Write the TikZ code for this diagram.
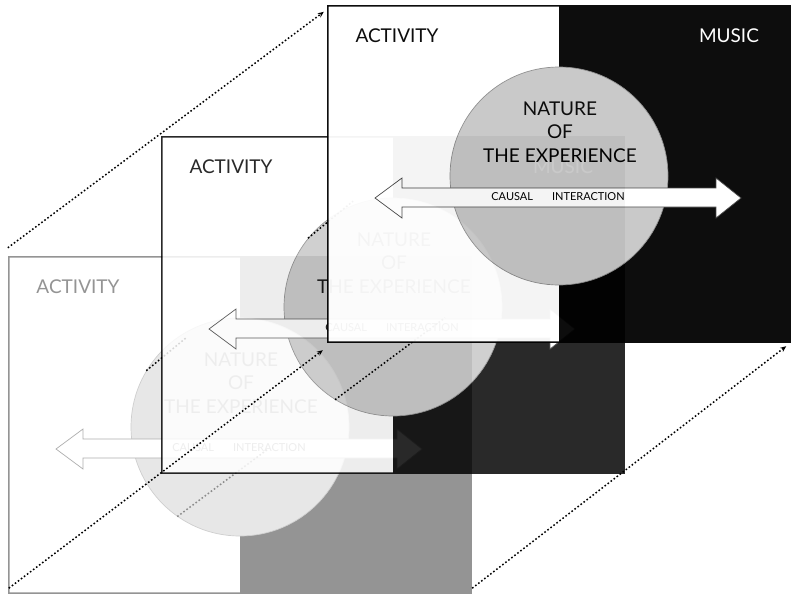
\documentclass[tikz,border=0pt]{standalone}
\usepackage{fontspec}
\setmainfont{Lato}
\usetikzlibrary{arrows.meta,calc}

\begin{document}
\begin{tikzpicture}[
    x=1pt,y=-1pt,
    panelbox/.style={minimum width=462pt,minimum height=336pt,inner sep=0pt,
      fill=white},
    panelframe/.style={line width=1.5pt},
    expcircle/.style={circle,draw=black!45,line width=0.7pt,fill=black!22,
      minimum size=218pt,inner sep=0pt},
    caption/.style={font=\fontsize{19}{23.5}\selectfont,inner sep=0pt},
    smallcaption/.style={font=\fontsize{11}{12}\selectfont,inner sep=0pt},
    arrowbody/.style={draw=black!75,line width=0.7pt,fill=white},
    circleline/.style={line width=1.5pt,dash pattern=on 1.6pt off 2.2pt},
    linkline/.style={circleline,-{Stealth[length=6pt,width=5pt]}},
    panel/.pic={
      \node[panelbox] (-box) at (231,168) {};
      \fill[black] (-box.north) rectangle (-box.south east);
      \node[expcircle] (-circ) at (231,170) {};
      \node[caption] (-act) at (69,30) {ACTIVITY};
      \node[caption,text=white] (-mus) at (401,30) {MUSIC};
      \node[caption,align=center] (-nat) at (232,126)
        {NATURE\\OF\\THE EXPERIENCE};
      \filldraw[arrowbody] (47,192) -- (74,172) -- (74,182) -- (388,182)
        -- (388,172) -- (413,192) -- (388,212) -- (388,201) -- (74,201)
        -- (74,212) -- cycle;
      \node[smallcaption] (-int) at (230,191)
        {CAUSAL\hspace{19pt}INTERACTION};
      \draw[panelframe] (-box.north west) rectangle (-box.south east);
    }
  ]
    \fill[white] (0,0) rectangle (800,600);
    % back panel
    \begin{scope}[opacity=0.42,transparency group]
      \pic (p1) at (9,257) {panel};
    \end{scope}
    \draw[circleline] (p1-circ.149) -- ($(p1-circ.149)+(40,-33)$);
    \draw[circleline,black!45] (p1-circ.235) -- ($(p1-circ.235)+(90,-67)$);
    % middle panel
    \begin{scope}[opacity=0.84,transparency group]
      \pic (p2) at (162,137) {panel};
    \end{scope}
    \draw[circleline] (p2-circ.141) -- ($(p2-circ.141)+(45,-37)$);
    \draw[circleline] (p2-circ.238) -- ($(p2-circ.238)+(110,-82)$);
    \draw[linkline] ([yshift=5pt]p1-box.south west)
      -- ([shift={(161pt,123pt)}]p2-box.south west);
    % front panel
    \begin{scope}[opacity=0.95,transparency group]
      \pic (p3) at (328,6) {panel};
    \end{scope}
    \draw[linkline] ([shift={(-1pt,9pt)}]p1-box.north west)
      -- ([shift={(-4pt,-6pt)}]p3-box.north west);
    \draw[linkline] ([shift={(1pt,5pt)}]p1-box.south east)
      -- ([shift={(-4pt,-4pt)}]p3-box.south east);
\end{tikzpicture}
\end{document}
